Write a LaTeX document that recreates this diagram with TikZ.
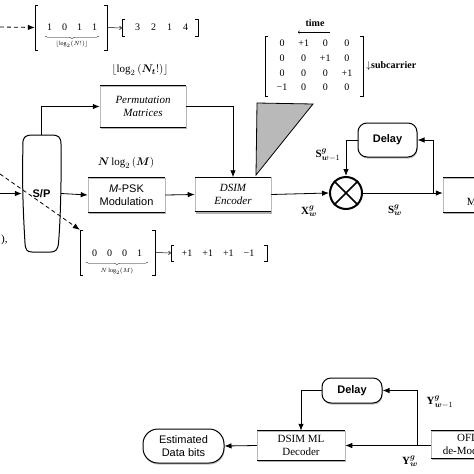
\documentclass[tikz,border=0pt]{standalone}
\usepackage{amsmath,bm}
\usepackage{fontspec}
\setmainfont{Liberation Serif}
\setsansfont{Liberation Sans}
\usetikzlibrary{arrows.meta,shadows,calc,decorations.pathreplacing}
\tikzset{
  arr/.style={-{Latex[length=7pt,width=5.5pt]}, line width=0.8pt},
  dasharr/.style={arr, dash pattern=on 4pt off 3pt},
  thinarr/.style={-{To[length=2.5pt,width=4pt]}, line width=0.5pt},
  brk/.style={line width=0.6pt},
  ubrace/.style={decorate, decoration={brace, amplitude=2.5pt}, line width=0.4pt},
  blk/.style={rectangle, draw=gray!55, fill=white, line width=0.5pt, inner sep=2pt, align=center,
    font=\fontsize{11}{13}\selectfont,
    drop shadow={shadow xshift=0.6pt, shadow yshift=-2pt, fill=gray!60, opacity=1}},
  rnd/.style={rectangle, rounded corners=9pt, draw=black, fill=white, line width=1pt, align=center,
    font=\sffamily\fontsize{11}{13}\selectfont,
    drop shadow={shadow xshift=0.6pt, shadow yshift=-1.5pt, fill=gray!50, opacity=1}},
  mtx/.style={inner sep=0pt, font=\fontsize{10}{12}\selectfont},
  tiny/.style={inner sep=0pt, font=\fontsize{6}{7}\selectfont},
  frame/.style={inner sep=0pt},
  lbl/.style={inner sep=1pt, font=\fontsize{11}{13}\selectfont},
}
\newcommand\boxedges[1]{%
  \draw[line width=1.1pt] (#1.north west) -- (#1.north east);
  \draw[line width=1.1pt] (#1.south west) -- (#1.south east);}
\newcommand\brackets[1]{%
  \draw[brk] ([xshift=3.5pt]#1.north west) -- (#1.north west) -- (#1.south west) -- ([xshift=3.5pt]#1.south west);
  \draw[brk] ([xshift=-3.5pt]#1.north east) -- (#1.north east) -- (#1.south east) -- ([xshift=-3.5pt]#1.south east);}
\begin{document}
\begin{tikzpicture}[x=1pt,y=-1pt]
\useasboundingbox (0,0) rectangle (474,474);

% ---------- top-left bit mapping
\node[frame, minimum width=72pt, minimum height=45pt] (m1) at (71,27.5) {};
\node[mtx] (m1c) at (72,27) {1\hspace{10pt}0\hspace{10pt}1\hspace{10pt}1};
\draw[ubrace] (99,36) -- (45,36);
\node[tiny] (m1l) at (72,44) {$\lfloor\log_2(N!)\rfloor$};
\brackets{m1}
\node[frame, minimum width=76pt, minimum height=17pt] (m2) at (160,28) {};
\node[mtx] (m2c) at (161.5,27.5) {3\hspace{11pt}2\hspace{11pt}1\hspace{11pt}4};
\brackets{m2}
\draw[thinarr] (m1.east) -- (m2.west);
\coordinate (d1) at (0,27);
\draw[dasharr] (d1) -- (m1.west);
\node[lbl] (lnt) at (140,70) {$\left\lfloor \log_2\left(\bm{N_t}!\right)\right\rfloor$};

% ---------- permutation matrix (top right)
\node[frame, minimum width=98pt, minimum height=60pt] (tm) at (314,66) {};
\node[mtx] (tmc) at (314.5,66) {\fontsize{10}{14.7}\selectfont
  \begin{tabular}{@{}c@{\hspace{11pt}}c@{\hspace{11pt}}c@{\hspace{11pt}}c@{}}
  0&+1&0&0\\0&0&+1&0\\0&0&0&+1\\−1&0&0&0\end{tabular}};
\brackets{tm}
\node[inner sep=0pt, font=\bfseries\fontsize{10}{12}\selectfont] (time) at (315,23) {time};
\coordinate (ta) at (330,32);
\coordinate (tb) at (298,32);
\draw[-{To[length=2pt,width=3pt]}, line width=0.4pt] (ta) -- (tb);
\node[anchor=west, inner sep=0pt, font=\fontsize{10}{12}\selectfont] (sub) at (366,66) {$\downarrow$\textbf{subcarrier}};

% ---------- S/P
\node[minimum width=39pt, minimum height=117pt, inner sep=0pt] (sp) at (41.5,193.5) {};
\draw[line width=1pt, fill=white] (23,144) .. controls (22.5,137) and (26,135) .. (32,135) -- (52,135)
  .. controls (58,135) and (61,137) .. (61,144) .. controls (61.5,180) and (60.5,220) .. (58.5,243)
  .. controls (58,250) and (55,252) .. (51,252) -- (32,252) .. controls (27,252) and (25.5,250) .. (25,243)
  .. controls (23,210) and (22,180) .. (23,144) -- cycle;
\node[font=\sffamily\bfseries\fontsize{11}{13}\selectfont] at (sp.center) {S/P};
\coordinate (in) at (0,193.5);
\draw[arr] (in) -- (sp.west);

% ---------- blocks
\node[blk, minimum width=86pt, minimum height=41pt, font=\itshape\fontsize{11}{13}\selectfont] (perm) at (143,106.5) {Permutation\\Matrices};
\node[blk, minimum width=77pt, minimum height=34pt, font=\sffamily\fontsize{11}{13}\selectfont] (mpsk) at (126.5,195) {\textit{M}-PSK\\Modulation};
\node[blk, minimum width=76pt, minimum height=34pt, font=\itshape\fontsize{11}{13}\selectfont] (dsim) at (233,194.5) {DSIM\\Encoder};
\node[blk, minimum width=94pt, minimum height=34pt] (mod) at (490,195) {OFDM\\Modulator};
\boxedges{perm}\boxedges{mpsk}\boxedges{dsim}\boxedges{mod}
\node[lbl] (nlm) at (126,163) {$\bm{N}\log_2\left(\bm{M}\right)$};

\draw[line width=0.8pt, fill=gray!55] (257,103) -- (313,104) -- (256,175) -- cycle;

\node[rnd, minimum width=59pt, minimum height=34pt, font=\sffamily\bfseries\fontsize{11}{13}\selectfont] (delay) at (387.5,140) {Delay};
\node[circle, draw, line width=2pt, minimum size=32pt, inner sep=0pt] (mult) at (346,193) {};
\draw[line width=1.6pt] (mult.45) -- (mult.225) (mult.135) -- (mult.315);
\coordinate (tap) at (433,193);

\draw[arr] (sp.north) |- (perm.west);
\draw[arr] (sp.east) -- (mpsk.west);
\draw[arr] (mpsk.east) -- (dsim.west);
\draw[arr] (perm.east) -| (dsim.north);
\draw[arr] (dsim.east) -- (mult.west);
\draw[arr] (delay.west) -| (mult.north);
\draw[arr] (mult.east) -- (mod.west |- mult.east);
\draw[arr] (tap) |- (delay.east);

\node[lbl] (xw) at (309,211) {$\mathbf{X}_{\bm w}^{\bm g}$};
\node[lbl] (sw1) at (328,155) {$\mathbf{S}_{\bm{w}-1}^{\bm g}$};
\node[lbl] (sw) at (395,210) {$\mathbf{S}_{\bm w}^{\bm g}$};

% ---------- bottom bit mapping
\node[frame, minimum width=75pt, minimum height=45pt] (m3) at (117.5,252.5) {};
\node[mtx] (m3c) at (117,253) {0\hspace{10pt}0\hspace{10pt}0\hspace{10pt}1};
\draw[ubrace] (148,262) -- (86,262);
\node[tiny] (m3l) at (117,271) {$N\log_2(M)$};
\brackets{m3}
\node[frame, minimum width=96pt, minimum height=16pt] (m4) at (219,253) {};
\node[mtx] (m4c) at (218,253) {+1\hspace{10pt}+1\hspace{10pt}+1\hspace{10pt}−1};
\brackets{m4}
\draw[thinarr] (m3.east) -- (m4.west);
\coordinate (d2) at (0,174);
\draw[dasharr] (d2) -- (m3.north west);
\node[lbl, anchor=west] (frag) at (0,240) {),};

% ---------- receiver
\node[rnd, minimum width=60pt, minimum height=25pt, font=\sffamily\bfseries\fontsize{11}{13}\selectfont] (delay2) at (352,390.5) {Delay};
\node[blk, minimum width=88pt, minimum height=29pt] (dec) at (301,445.5) {DSIM ML\\Decoder};
\node[rnd, rounded corners=15pt, minimum width=81pt, minimum height=34pt] (est) at (183.5,446) {Estimated\\Data bits};
\node[blk, minimum width=84pt, minimum height=27pt] (demod) at (473,444.5) {OFDM\\de-Modulator};
\boxedges{dec}\boxedges{demod}
\coordinate (tap2) at (417,446);
\draw[arr] (demod.west |- dec.east) -- (dec.east);
\draw[arr] (tap2) |- (delay2.east);
\draw[arr] (delay2.west) -| (dec.north);
\draw[arr] (dec.west) -- (est.east);
\node[lbl] (yw1) at (440,402) {$\mathbf{Y}_{\bm{w}-1}^{\bm g}$};
\node[lbl] (yw) at (410,461) {$\mathbf{Y}_{\bm w}^{\bm g}$};
\end{tikzpicture}
\end{document}
